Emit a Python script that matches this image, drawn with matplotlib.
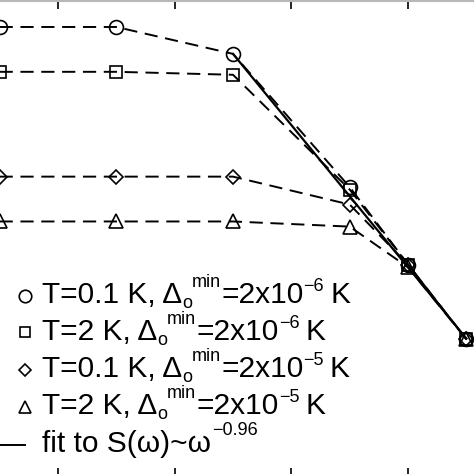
import numpy as np
import matplotlib
matplotlib.use("Agg")
import matplotlib.pyplot as plt
from matplotlib.lines import Line2D

plt.rcParams["font.family"] = ["Liberation Sans", "DejaVu Sans"]
plt.rcParams["lines.scale_dashes"] = False

# Data (log-log)
omega = [3.16e-5, 3.16e-4, 3.16e-3, 3.16e-2, 1.0e-1, 3.16e-1]
s_t01_6 = [0.668, 0.668, 0.44, 0.0556, 0.0167, 0.00523]
s_t2_6 = [0.333, 0.333, 0.318, 0.0535, 0.0167, 0.00523]
s_t01_5 = [0.0654, 0.0654, 0.0654, 0.0424, 0.0167, 0.00523]
s_t2_5 = [0.0326, 0.0326, 0.0326, 0.0301, 0.0160, 0.00523]

fit_exp = -0.96
fit_amp = 0.00175
fit_omega = np.array([3.16e-3, 3.16e-1])

temps = ["T=0.1 K, Δ", "T=2 K, Δ", "T=0.1 K, Δ", "T=2 K, Δ"]
exps = ["\u22126", "\u22126", "\u22125", "\u22125"]

W = H = 474
MAIN, SMALL = 21.5, 13

fig = plt.figure(figsize=(4.74, 4.74), dpi=100)
ax = fig.add_axes([0, -2 / H, 1, 1 - 1 / H + 2 / H])

series = [
    (s_t01_6, dict(marker="o", markersize=10)),
    (s_t2_6, dict(marker="s", markersize=8.5)),
    (s_t01_5, dict(marker="D", markersize=7.5)),
    (s_t2_5, dict(marker="^", markersize=10)),
]
for vals, style in series:
    ax.plot(omega, vals, color="black", lw=1.4, dashes=(9.5, 5.5),
            mfc="none", mec="black", mew=1.2, **style)

ax.plot(fit_omega, fit_amp * fit_omega ** fit_exp, color="black", lw=1.6)

ax.set_xscale("log")
ax.set_yscale("log")
ax.set_xlim(10 ** -4.497, 10 ** (-4.497 + W / 116.7))
ax.set_ylim(10 ** (-(H + 2) / 148.6), 1.0)

for side in ["left", "right", "bottom"]:
    ax.spines[side].set_visible(False)
ax.spines["top"].set_color("0.72")
ax.spines["top"].set_linewidth(1.5)

ax.minorticks_off()
ax.set_xticks([1e-4, 1e-3, 1e-2, 1e-1])
ax.tick_params(axis="x", which="major", direction="in", top=True, bottom=True,
               length=6, width=1.2, labelbottom=False, labeltop=False)
ax.tick_params(axis="y", left=False, right=False, labelleft=False)

# legend, drawn by hand in figure pixels
renderer = fig.canvas.get_renderer()


def draw_row(x0, yb, segs):
    # segs: (text, size, raise_px, gap_px)
    x = x0
    for txt, size, dy, gap in segs:
        x += gap
        t = fig.text(x / W, 1 - (yb - dy) / H, txt, fontsize=size,
                     va="baseline", ha="left")
        x += t.get_window_extent(renderer).width


markers = [("o", 9), ("s", 7), ("D", 6), ("^", 8)]
baselines = [303, 340, 377, 414, 452]
centers = [296, 332, 370, 407]
for (m, ms), yc in zip(markers, centers):
    fig.add_artist(Line2D([25 / W], [1 - yc / H], marker=m, markersize=ms,
                          mfc="none", mec="black", mew=1.2, ls="none"))
fig.add_artist(Line2D([0, 25 / W], [1 - 445 / H] * 2, color="black", lw=1.4))

for tlab, elab, yb in zip(temps, exps, baselines):
    draw_row(42, yb, [
        (tlab, MAIN, 0, 0),
        ("o", SMALL, -5, 0),
        ("min", SMALL, 16, 0),
        ("=2x10", MAIN, 0, 0),
        (elab, SMALL, 12, 0),
        ("K", MAIN, 0, 6),
    ])
draw_row(42, baselines[4], [
    ("fit to S(ω)~ω", MAIN, 0, 0),
    ("\u22120.96", SMALL, 17, 1),
])

fig.savefig("out.png", dpi=100)
